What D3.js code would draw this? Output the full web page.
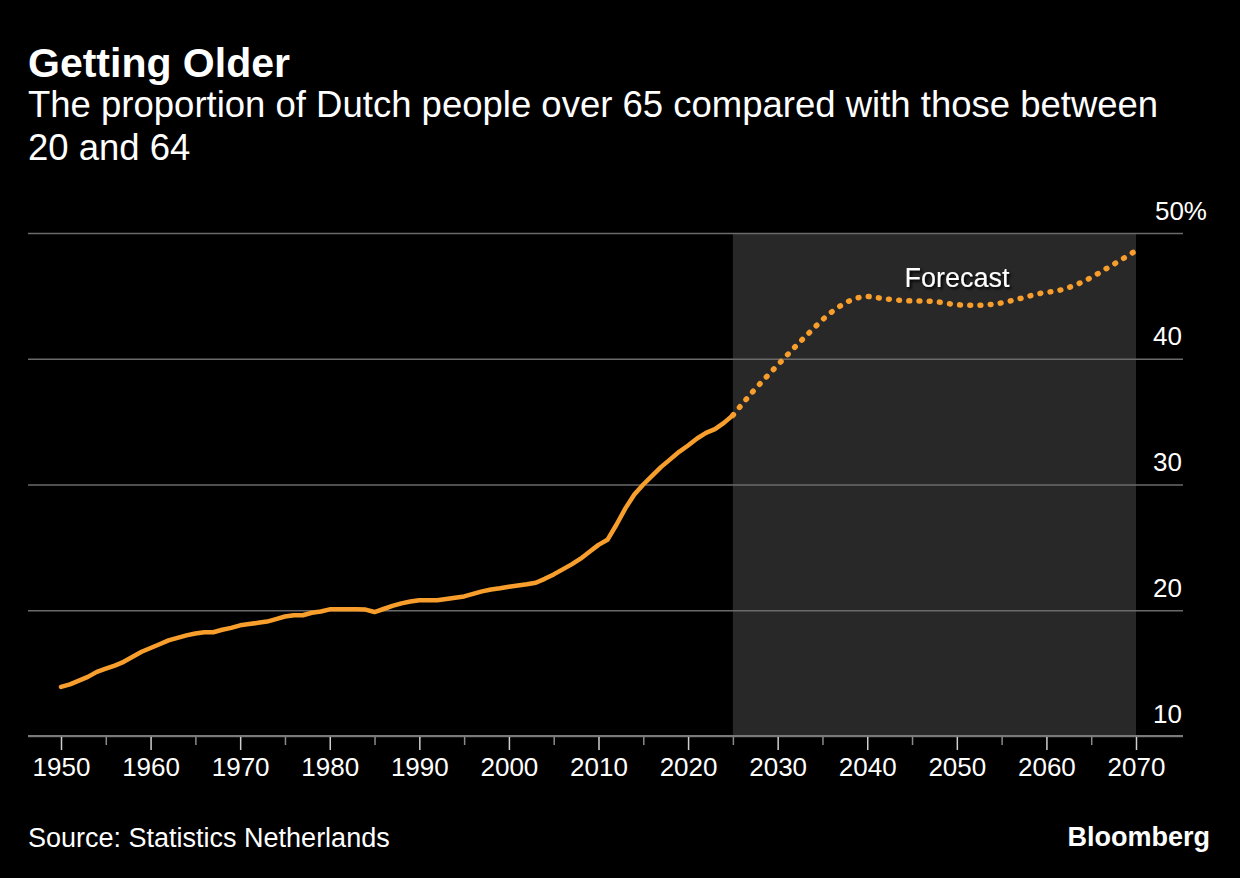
<!DOCTYPE html>
<html>
<head>
<meta charset="utf-8">
<script src="https://cdn.jsdelivr.net/npm/d3@7"></script>
<style>
    html, body { margin: 0; padding: 0; background: #000; }
    svg { display: block; font-family: "Liberation Sans", Arial, sans-serif; }
</style>
</head>
<body>
<div id="wrapper"></div>
<script>
// history, old-age ratio (65+ / 20-64), percent
var histYears = [1950, 1951, 1952, 1953, 1954, 1955, 1956, 1957, 1958, 1959,
    1960, 1961, 1962, 1963, 1964, 1965, 1966, 1967, 1968, 1969,
    1970, 1971, 1972, 1973, 1974, 1975, 1976, 1977, 1978, 1979,
    1980, 1981, 1982, 1983, 1984, 1985, 1986, 1987, 1988, 1989,
    1990, 1991, 1992, 1993, 1994, 1995, 1996, 1997, 1998, 1999,
    2000, 2001, 2002, 2003, 2004, 2005, 2006, 2007, 2008, 2009,
    2010, 2011, 2012, 2013, 2014, 2015, 2016, 2017, 2018, 2019,
    2020, 2021, 2022, 2023, 2024, 2025]
var histValues = [13.9, 14.1, 14.4, 14.7, 15.1, 15.35, 15.6, 15.9, 16.3, 16.7,
    17.0, 17.3, 17.6, 17.8, 18.0, 18.15, 18.25, 18.25, 18.45, 18.6,
    18.8, 18.9, 19.0, 19.1, 19.3, 19.5, 19.6, 19.6, 19.8, 19.9,
    20.07, 20.07, 20.07, 20.07, 20.05, 19.86, 20.1, 20.35, 20.55, 20.7,
    20.8, 20.8, 20.8, 20.9, 21.0, 21.1, 21.3, 21.5, 21.65, 21.75,
    21.87, 21.97, 22.07, 22.19, 22.5, 22.85, 23.25, 23.65, 24.1, 24.65,
    25.2, 25.6, 26.8, 28.1, 29.2, 30.0, 30.7, 31.4, 32.0, 32.6,
    33.1, 33.66, 34.1, 34.4, 34.9, 35.5]

// forecast
var fcYears = [2025, 2027, 2030, 2033, 2036, 2038, 2040, 2042, 2045, 2047,
    2050, 2052, 2054, 2056, 2059, 2062, 2064, 2067, 2070]
var fcValues = [35.5, 37.2, 39.5, 41.7, 43.7, 44.6, 44.95, 44.76, 44.6, 44.58,
    44.3, 44.25, 44.33, 44.6, 45.15, 45.55, 46.1, 47.3, 48.6]

var yTicks = [10, 20, 30, 40, 50]
var xMajor = d3.range(1950, 2071, 10)
var xMinor = d3.range(1955, 2070, 10)
var forecastStart = 2025
var forecastEnd = 2070

var width = 1240
var height = 878
var orange = "#f89e2c"
var fontStack = "Liberation Sans, Arial, sans-serif"

let svg = d3.select("#wrapper")
    .append("svg")
    .attr("width", width)
    .attr("height", height)

svg.append("rect")
    .attr("width", width)
    .attr("height", height)
    .attr("fill", "#000")

let x = d3.scaleLinear().domain([1950, 2070]).range([61, 1136])
let y = d3.scaleLinear().domain([10, 50]).range([736, 233])
let gridLeft = 28
let gridRight = 1183

// title block
svg.append("text")
    .attr("x", 28).attr("y", 77)
    .attr("fill", "#fff")
    .attr("font-size", 41)
    .attr("font-weight", "bold")
    .text("Getting Older")

svg.append("text")
    .attr("x", 28).attr("y", 117)
    .attr("fill", "#fff")
    .attr("font-size", 36.5)
    .text("The proportion of Dutch people over 65 compared with those between")

svg.append("text")
    .attr("x", 28).attr("y", 160)
    .attr("fill", "#fff")
    .attr("font-size", 36.5)
    .text("20 and 64")

// forecast shading
svg.append("rect")
    .attr("x", x(forecastStart))
    .attr("y", y(50))
    .attr("width", x(forecastEnd) - x(forecastStart))
    .attr("height", y(10) - y(50))
    .attr("fill", "#282828")

// y grid + labels
let yAxis = svg.append("g")
    .attr("transform", `translate(${gridRight},0)`)
    .call(d3.axisRight(y).tickValues(yTicks).tickSize(-(gridRight - gridLeft))
        .tickFormat(d => d === 50 ? "50%" : d))

yAxis.select(".domain").remove()
yAxis.selectAll(".tick line")
    .attr("stroke", "#6a6a6a")
    .attr("stroke-width", 1.5)
yAxis.selectAll(".tick text")
    .attr("x", d => d === 50 ? 24 : -1)
    .attr("dy", -14)
    .attr("text-anchor", "end")
    .attr("fill", "#fff")
    .attr("font-size", 26)
    .attr("font-family", fontStack)

// x axis
let xAxis = svg.append("g")
    .attr("transform", `translate(0,${y(10) + 1})`)
    .call(d3.axisBottom(x).tickValues(xMajor).tickSize(13).tickPadding(8).tickFormat(d3.format("d")))
xAxis.select(".domain").remove()
xAxis.selectAll(".tick line").attr("stroke", "#cfcfcf").attr("stroke-width", 1.5)
xAxis.selectAll(".tick text")
    .attr("fill", "#fff")
    .attr("font-size", 26)
    .attr("font-family", fontStack)

let xMinorAxis = svg.append("g")
    .attr("transform", `translate(0,${y(10) + 1})`)
    .call(d3.axisBottom(x).tickValues(xMinor).tickSize(8).tickFormat(""))
xMinorAxis.select(".domain").remove()
xMinorAxis.selectAll(".tick line").attr("stroke", "#8a8a8a").attr("stroke-width", 1.5)

// baseline
svg.append("line")
    .attr("x1", gridLeft).attr("x2", gridRight)
    .attr("y1", y(10)).attr("y2", y(10))
    .attr("stroke", "#7a7a7a")
    .attr("stroke-width", 2)

// lines
let histLine = d3.line()
    .x((d, i) => x(histYears[i]))
    .y(d => y(d))

svg.append("path")
    .datum(histValues)
    .attr("d", histLine)
    .attr("fill", "none")
    .attr("stroke", orange)
    .attr("stroke-width", 4.5)
    .attr("stroke-linejoin", "round")
    .attr("stroke-linecap", "round")

let fcLine = d3.line()
    .x((d, i) => x(fcYears[i]))
    .y(d => y(d))
    .curve(d3.curveMonotoneX)

svg.append("path")
    .datum(fcValues)
    .attr("d", fcLine)
    .attr("fill", "none")
    .attr("stroke", orange)
    .attr("stroke-width", 5.5)
    .attr("stroke-linecap", "round")
    .attr("stroke-dasharray", "0.8 9.4")

// forecast label with shadow
let defs = svg.append("defs")
defs.append("filter")
    .attr("id", "shadow")
    .append("feDropShadow")
    .attr("dx", 2).attr("dy", 2)
    .attr("stdDeviation", 1.5)
    .attr("flood-color", "#000")
    .attr("flood-opacity", 1)

svg.append("text")
    .attr("x", 957).attr("y", 287)
    .attr("text-anchor", "middle")
    .attr("fill", "#fff")
    .attr("font-size", 27)
    .attr("filter", "url(#shadow)")
    .text("Forecast")

// footer
svg.append("text")
    .attr("x", 28).attr("y", 847)
    .attr("fill", "#fff")
    .attr("font-size", 27)
    .text("Source: Statistics Netherlands")

svg.append("text")
    .attr("x", 1210).attr("y", 846)
    .attr("text-anchor", "end")
    .attr("fill", "#fff")
    .attr("font-size", 27)
    .attr("font-weight", "bold")
    .text("Bloomberg")
</script>
</body>
</html>
